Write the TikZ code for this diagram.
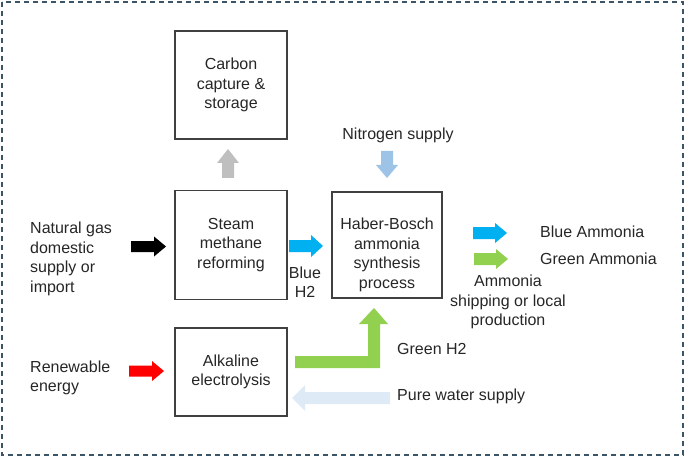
\documentclass[tikz,border=0pt]{standalone}
\usepackage{fontspec}
\setmainfont{Liberation Sans}
\definecolor{frame}{HTML}{3B5566}
\definecolor{boxline}{HTML}{404040}
\definecolor{txt}{HTML}{262626}
\definecolor{bluearr}{HTML}{00B0F0}
\definecolor{greenarr}{HTML}{92D050}
\definecolor{redarr}{HTML}{FF0000}
\definecolor{grayarr}{HTML}{BFBFBF}
\definecolor{nitro}{HTML}{9DC3E6}
\definecolor{water}{HTML}{DEEBF7}
\newcommand\barr[5]{\fill[#1] (0,-#3) -- ({#2-#5},-#3) -- ({#2-#5},-#4) -- (#2,0) -- ({#2-#5},#4) -- ({#2-#5},#3) -- (0,#3) -- cycle;}
\begin{document}
\begin{tikzpicture}[x=1pt,y=-1pt,
  every node/.style={text=txt,font=\fontsize{16}{19.5}\selectfont,inner sep=0pt},
  procbox/.style={draw=boxline,line width=1.2pt,minimum width=112pt,align=center},
  lbl/.style={align=center},
  lbll/.style={align=left,anchor=west}]
\useasboundingbox (0,0) rectangle (685,457);
\draw[frame,line width=1.4pt,dash pattern=on 5pt off 4pt] (2,2) rectangle (683,455);

% boxes
\node[procbox,minimum height=108pt] (ccs) at (231,85) {Carbon\\capture \&\\storage};
\node[procbox,minimum height=109pt] (smr) at (231,245) {Steam\\methane\\reforming};
\node[procbox,minimum width=110pt,minimum height=106pt] (hb) at (387,245) {};
\node[lbl] (hbt) at (387,255) {Haber-Bosch\\ammonia\\synthesis\\process};
\node[procbox,minimum height=88pt] (alk) at (231,372) {Alkaline\\electrolysis};

% labels
\node[lbll] (ng) at (30,259) {Natural gas\\domestic\\supply or\\import};
\node[lbll] (re) at (30,378) {Renewable\\energy};
\node[lbl] (bh2) at (305,282) {Blue\\H2};
\node[lbl] (n2) at (398,135) {Nitrogen supply};
\node[lbll] (gh2) at (397,349) {Green H2};
\node[lbll] (pw) at (397,396) {Pure water supply};
\node[lbll] (ba) at (540,232) {Blue Ammonia};
\node[lbll] (ga) at (540,259) {Green Ammonia};
\node[lbl] (ship) at (508,302) {Ammonia\\shipping or local\\production};

% block arrows
\begin{scope}[shift={(131,246.5)}]\barr{black}{35}{5.5}{10}{12}\end{scope}
\begin{scope}[shift={(289,246)}]\barr{bluearr}{34}{6}{11}{12}\end{scope}
\begin{scope}[shift={(129,371)}]\barr{redarr}{35}{5.5}{10}{12}\end{scope}
\begin{scope}[shift={(228,178)},rotate=90]\barr{grayarr}{29}{6}{11}{14}\end{scope}
\begin{scope}[shift={(387,151)},rotate=-90]\barr{nitro}{27}{6}{11}{13}\end{scope}
\begin{scope}[shift={(473,233)}]\barr{bluearr}{34}{6}{10}{12}\end{scope}
\begin{scope}[shift={(474,259)}]\barr{greenarr}{34}{6}{10}{12}\end{scope}
\begin{scope}[shift={(390,398)},rotate=180]\barr{water}{98}{6}{13}{13}\end{scope}
\fill[greenarr] (295,356) -- (368,356) -- (368,324) -- (359,324) -- (374,308) -- (388,324) -- (380,324) -- (380,368) -- (295,368) -- cycle;
\end{tikzpicture}
\end{document}
